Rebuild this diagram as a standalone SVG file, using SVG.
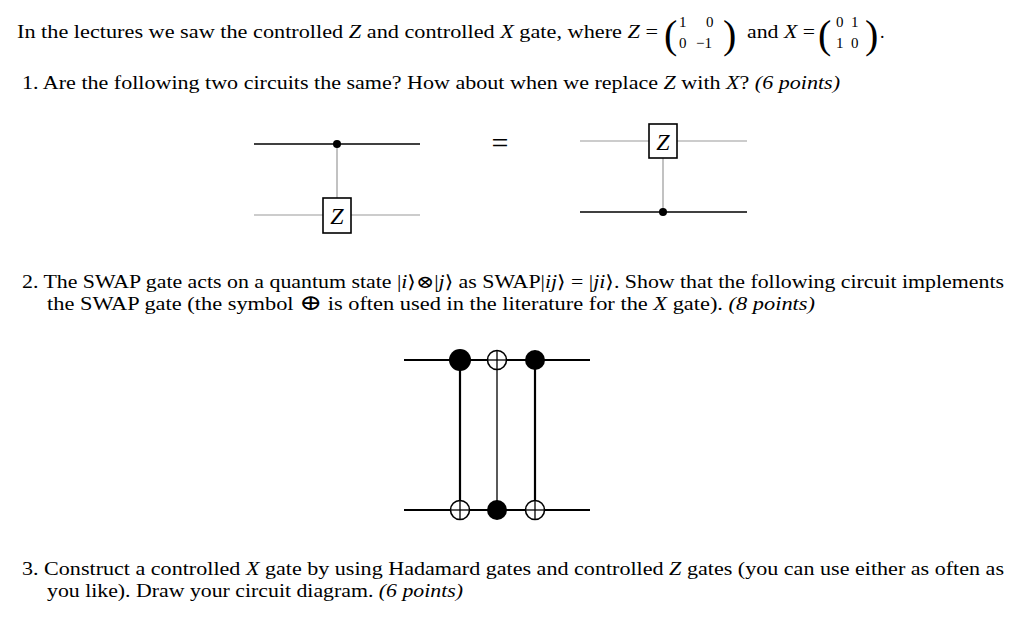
<svg xmlns="http://www.w3.org/2000/svg" width="1024" height="636" viewBox="0 0 1024 636">
<style>
text{font-family:"Liberation Serif","DejaVu Serif",serif;font-size:18px;fill:#000}
.i{font-style:italic}
.m{font-size:15px}
.p{font-size:40px;font-weight:300}
.w{stroke:#000;stroke-width:1.3}
.g{stroke:#999;stroke-width:1.2}
.t{stroke:#000;stroke-width:2.2}
.ox{fill:#fff;stroke:#000;stroke-width:1.6}
</style>
<rect width="1024" height="636" fill="#fff"/>
<text x="17" y="38" textLength="641" lengthAdjust="spacingAndGlyphs">In the lectures we saw the controlled <tspan class="i">Z</tspan> and controlled <tspan class="i">X</tspan> gate, where <tspan class="i">Z</tspan> =</text>
<g id="matrixZ">
<text x="664" y="48" class="p">(</text>
<text x="679" y="27" class="m">1</text><text x="706" y="27" class="m">0</text>
<text x="679" y="48" class="m">0</text><text x="696" y="48" class="m">−1</text>
<text x="723" y="48" class="p">)</text>
</g>
<text x="747" y="38" textLength="68" lengthAdjust="spacingAndGlyphs">and <tspan class="i">X</tspan> =</text>
<g id="matrixX">
<text x="818" y="48" class="p">(</text>
<text x="836" y="27" class="m">0</text><text x="851" y="27" class="m">1</text>
<text x="836" y="48" class="m">1</text><text x="851" y="48" class="m">0</text>
<text x="865" y="48" class="p">)</text>
</g>
<text x="880" y="38">.</text>

<text x="22" y="89" textLength="818" lengthAdjust="spacingAndGlyphs">1. Are the following two circuits the same? How about when we replace <tspan class="i">Z</tspan> with <tspan class="i">X</tspan>? <tspan class="i">(6 points)</tspan></text>

<g id="circuit1">
<line class="w" x1="254" y1="144" x2="420" y2="144"/>
<line class="g" x1="254" y1="215" x2="420" y2="215"/>
<line class="g" x1="337" y1="144" x2="337" y2="199"/>
<circle cx="337" cy="144" r="4"/>
<rect x="323" y="198" width="28" height="35" fill="#fff" stroke="#000" stroke-width="1.6"/>
<text x="337" y="224" text-anchor="middle" class="i" style="font-size:24px">Z</text>
</g>
<text x="500" y="153" text-anchor="middle" style="font-size:30px" transform="translate(0,0)">=</text>
<g id="circuit2">
<line class="g" x1="580" y1="141" x2="747" y2="141"/>
<line class="w" x1="580" y1="212" x2="747" y2="212"/>
<line class="g" x1="663" y1="158" x2="663" y2="212"/>
<circle cx="663" cy="212" r="4"/>
<rect x="649" y="124" width="28" height="34" fill="#fff" stroke="#000" stroke-width="1.6"/>
<text x="663" y="150" text-anchor="middle" class="i" style="font-size:24px">Z</text>
</g>

<text x="22" y="288" textLength="982" lengthAdjust="spacingAndGlyphs">2. The SWAP gate acts on a quantum state |<tspan class="i">i</tspan>⟩⊗|<tspan class="i">j</tspan>⟩ as SWAP|<tspan class="i">ij</tspan>⟩ = |<tspan class="i">ji</tspan>⟩. Show that the following circuit implements</text>
<text x="47" y="310" textLength="768" lengthAdjust="spacingAndGlyphs">the SWAP gate (the symbol <tspan style="font-size:22px">⊕</tspan> is often used in the literature for the <tspan class="i">X</tspan> gate). <tspan class="i">(8 points)</tspan></text>

<g id="swap">
<line class="t" x1="404" y1="360" x2="590" y2="360"/>
<line class="t" x1="404" y1="510" x2="590" y2="510"/>
<line class="t" x1="460" y1="360" x2="460" y2="510"/>
<line class="w" x1="497" y1="360" x2="497" y2="510"/>
<line class="t" stroke-width="2.8" x1="535" y1="360" x2="535" y2="510"/>
<circle cx="460" cy="360" r="11"/>
<circle class="ox" cx="497" cy="360" r="9.5"/><line class="w" x1="487.5" y1="360" x2="506.5" y2="360"/><line class="w" x1="497" y1="350.5" x2="497" y2="369.5"/>
<circle cx="535" cy="360" r="10"/>
<circle class="ox" cx="460" cy="510" r="9.5"/><line class="w" x1="450.5" y1="510" x2="469.5" y2="510"/><line class="w" x1="460" y1="500.5" x2="460" y2="519.5"/>
<circle cx="497" cy="510" r="10"/>
<circle class="ox" cx="535" cy="510" r="9.5"/><line class="w" x1="525.5" y1="510" x2="544.5" y2="510"/><line class="w" x1="535" y1="500.5" x2="535" y2="519.5"/>
</g>

<text x="22" y="575" textLength="982" lengthAdjust="spacingAndGlyphs">3. Construct a controlled <tspan class="i">X</tspan> gate by using Hadamard gates and controlled <tspan class="i">Z</tspan> gates (you can use either as often as</text>
<text x="47" y="597" textLength="416" lengthAdjust="spacingAndGlyphs">you like). Draw your circuit diagram. <tspan class="i">(6 points)</tspan></text>
</svg>
